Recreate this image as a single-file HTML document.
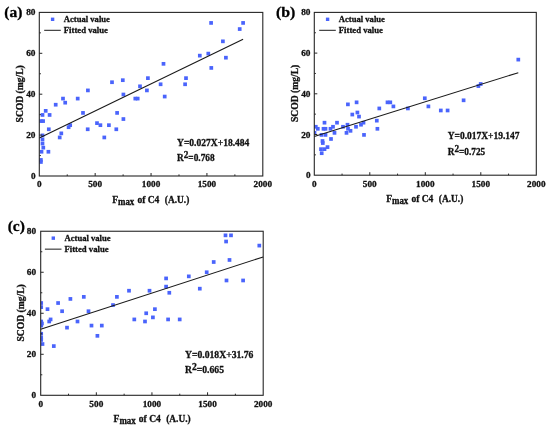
<!DOCTYPE html>
<html><head><meta charset="utf-8"><title>SCOD vs Fmax of C4</title>
<style>
html,body{margin:0;padding:0;background:#fff;}
svg{display:block;}
.t{font-family:"Liberation Serif","DejaVu Serif",serif;font-weight:bold;font-size:9px;fill:#111;stroke:#111;stroke-width:0.3px;}
.u{font-family:"Liberation Serif","DejaVu Serif",serif;font-weight:bold;font-size:9.6px;fill:#111;stroke:#111;stroke-width:0.3px;}
.pl{font-family:"Liberation Serif","DejaVu Serif",serif;font-weight:bold;font-size:15.5px;fill:#000;stroke:#000;stroke-width:0.3px;}
</style></head>
<body>
<svg width="550" height="430" viewBox="0 0 550 430">
<rect x="0" y="0" width="550" height="430" fill="#ffffff"/>
<g>
<clipPath id="cp0"><rect x="39.3" y="12.4" width="223.50" height="163.60"/></clipPath>
<g clip-path="url(#cp0)">
<rect x="61.15" y="96.74" width="3.7" height="3.7" fill="#4a64fc"/>
<rect x="75.85" y="96.74" width="3.7" height="3.7" fill="#4a64fc"/>
<rect x="63.35" y="100.83" width="3.7" height="3.7" fill="#4a64fc"/>
<rect x="53.85" y="102.87" width="3.7" height="3.7" fill="#4a64fc"/>
<rect x="43.85" y="109.01" width="3.7" height="3.7" fill="#4a64fc"/>
<rect x="40.65" y="113.10" width="3.7" height="3.7" fill="#4a64fc"/>
<rect x="47.75" y="113.10" width="3.7" height="3.7" fill="#4a64fc"/>
<rect x="81.15" y="111.06" width="3.7" height="3.7" fill="#4a64fc"/>
<rect x="39.05" y="119.23" width="3.7" height="3.7" fill="#4a64fc"/>
<rect x="41.25" y="119.23" width="3.7" height="3.7" fill="#4a64fc"/>
<rect x="46.95" y="127.42" width="3.7" height="3.7" fill="#4a64fc"/>
<rect x="68.35" y="123.33" width="3.7" height="3.7" fill="#4a64fc"/>
<rect x="66.75" y="125.37" width="3.7" height="3.7" fill="#4a64fc"/>
<rect x="95.15" y="121.28" width="3.7" height="3.7" fill="#4a64fc"/>
<rect x="98.55" y="123.33" width="3.7" height="3.7" fill="#4a64fc"/>
<rect x="107.05" y="123.33" width="3.7" height="3.7" fill="#4a64fc"/>
<rect x="85.85" y="127.42" width="3.7" height="3.7" fill="#4a64fc"/>
<rect x="59.45" y="131.51" width="3.7" height="3.7" fill="#4a64fc"/>
<rect x="57.85" y="135.60" width="3.7" height="3.7" fill="#4a64fc"/>
<rect x="102.45" y="135.60" width="3.7" height="3.7" fill="#4a64fc"/>
<rect x="40.65" y="133.55" width="3.7" height="3.7" fill="#4a64fc"/>
<rect x="40.65" y="137.64" width="3.7" height="3.7" fill="#4a64fc"/>
<rect x="40.65" y="141.73" width="3.7" height="3.7" fill="#4a64fc"/>
<rect x="41.45" y="145.82" width="3.7" height="3.7" fill="#4a64fc"/>
<rect x="39.65" y="149.91" width="3.7" height="3.7" fill="#4a64fc"/>
<rect x="46.55" y="149.91" width="3.7" height="3.7" fill="#4a64fc"/>
<rect x="39.05" y="158.09" width="3.7" height="3.7" fill="#4a64fc"/>
<rect x="39.05" y="160.14" width="3.7" height="3.7" fill="#4a64fc"/>
<rect x="115.25" y="111.06" width="3.7" height="3.7" fill="#4a64fc"/>
<rect x="121.55" y="117.19" width="3.7" height="3.7" fill="#4a64fc"/>
<rect x="114.45" y="127.42" width="3.7" height="3.7" fill="#4a64fc"/>
<rect x="133.45" y="96.74" width="3.7" height="3.7" fill="#4a64fc"/>
<rect x="135.85" y="96.74" width="3.7" height="3.7" fill="#4a64fc"/>
<rect x="162.85" y="94.70" width="3.7" height="3.7" fill="#4a64fc"/>
<rect x="86.05" y="88.56" width="3.7" height="3.7" fill="#4a64fc"/>
<rect x="110.15" y="80.38" width="3.7" height="3.7" fill="#4a64fc"/>
<rect x="120.95" y="78.34" width="3.7" height="3.7" fill="#4a64fc"/>
<rect x="161.65" y="61.98" width="3.7" height="3.7" fill="#4a64fc"/>
<rect x="146.05" y="76.29" width="3.7" height="3.7" fill="#4a64fc"/>
<rect x="138.15" y="84.47" width="3.7" height="3.7" fill="#4a64fc"/>
<rect x="158.75" y="82.43" width="3.7" height="3.7" fill="#4a64fc"/>
<rect x="145.05" y="88.56" width="3.7" height="3.7" fill="#4a64fc"/>
<rect x="184.15" y="76.29" width="3.7" height="3.7" fill="#4a64fc"/>
<rect x="183.25" y="82.43" width="3.7" height="3.7" fill="#4a64fc"/>
<rect x="121.55" y="92.65" width="3.7" height="3.7" fill="#4a64fc"/>
<rect x="209.25" y="21.07" width="3.7" height="3.7" fill="#4a64fc"/>
<rect x="241.25" y="21.07" width="3.7" height="3.7" fill="#4a64fc"/>
<rect x="237.85" y="27.21" width="3.7" height="3.7" fill="#4a64fc"/>
<rect x="221.05" y="39.48" width="3.7" height="3.7" fill="#4a64fc"/>
<rect x="197.95" y="53.79" width="3.7" height="3.7" fill="#4a64fc"/>
<rect x="206.45" y="51.75" width="3.7" height="3.7" fill="#4a64fc"/>
<rect x="224.05" y="55.84" width="3.7" height="3.7" fill="#4a64fc"/>
<rect x="209.45" y="66.07" width="3.7" height="3.7" fill="#4a64fc"/>
</g>
<line x1="39.3" y1="137.9" x2="243.1" y2="39.2" stroke="#1a1a1a" stroke-width="1.1"/>
<rect x="39.3" y="12.4" width="223.50" height="163.60" fill="none" stroke="#262626" stroke-width="1.1"/>
<line x1="67.24" y1="176.0" x2="67.24" y2="174.4" stroke="#262626" stroke-width="1"/>
<line x1="39.3" y1="155.55" x2="40.9" y2="155.55" stroke="#262626" stroke-width="1"/>
<line x1="95.17" y1="176.0" x2="95.17" y2="173.0" stroke="#262626" stroke-width="1"/>
<line x1="39.3" y1="135.10" x2="42.3" y2="135.10" stroke="#262626" stroke-width="1"/>
<line x1="123.11" y1="176.0" x2="123.11" y2="174.4" stroke="#262626" stroke-width="1"/>
<line x1="39.3" y1="114.65" x2="40.9" y2="114.65" stroke="#262626" stroke-width="1"/>
<line x1="151.05" y1="176.0" x2="151.05" y2="173.0" stroke="#262626" stroke-width="1"/>
<line x1="39.3" y1="94.20" x2="42.3" y2="94.20" stroke="#262626" stroke-width="1"/>
<line x1="178.99" y1="176.0" x2="178.99" y2="174.4" stroke="#262626" stroke-width="1"/>
<line x1="39.3" y1="73.75" x2="40.9" y2="73.75" stroke="#262626" stroke-width="1"/>
<line x1="206.93" y1="176.0" x2="206.93" y2="173.0" stroke="#262626" stroke-width="1"/>
<line x1="39.3" y1="53.30" x2="42.3" y2="53.30" stroke="#262626" stroke-width="1"/>
<line x1="234.86" y1="176.0" x2="234.86" y2="174.4" stroke="#262626" stroke-width="1"/>
<line x1="39.3" y1="32.85" x2="40.9" y2="32.85" stroke="#262626" stroke-width="1"/>
<text class="t" x="39.30" y="187.30" text-anchor="middle" textLength="4.6" lengthAdjust="spacingAndGlyphs">0</text>
<text class="t" x="95.17" y="187.30" text-anchor="middle" textLength="13.9" lengthAdjust="spacingAndGlyphs">500</text>
<text class="t" x="151.05" y="187.30" text-anchor="middle" textLength="18.4" lengthAdjust="spacingAndGlyphs">1000</text>
<text class="t" x="206.93" y="187.30" text-anchor="middle" textLength="18.4" lengthAdjust="spacingAndGlyphs">1500</text>
<text class="t" x="262.80" y="187.30" text-anchor="middle" textLength="18.4" lengthAdjust="spacingAndGlyphs">2000</text>
<text class="t" x="35.50" y="179.00" text-anchor="end" textLength="4.6" lengthAdjust="spacingAndGlyphs">0</text>
<text class="t" x="35.50" y="138.10" text-anchor="end" textLength="9.3" lengthAdjust="spacingAndGlyphs">20</text>
<text class="t" x="35.50" y="97.20" text-anchor="end" textLength="9.3" lengthAdjust="spacingAndGlyphs">40</text>
<text class="t" x="35.50" y="56.30" text-anchor="end" textLength="9.3" lengthAdjust="spacingAndGlyphs">60</text>
<text class="t" x="35.50" y="15.40" text-anchor="end" textLength="9.3" lengthAdjust="spacingAndGlyphs">80</text>
<rect x="50.90" y="17.60" width="3.4" height="3.4" fill="#4a64fc"/>
<line x1="44.20" y1="30.30" x2="60.80" y2="30.30" stroke="#1a1a1a" stroke-width="1"/>
<text class="t" x="63.80" y="22.40" textLength="46.1" lengthAdjust="spacingAndGlyphs">Actual value</text>
<text class="t" x="63.80" y="33.10" textLength="44.1" lengthAdjust="spacingAndGlyphs">Fitted value</text>
<text class="u" transform="translate(22.70,93.80) rotate(-90)" text-anchor="middle" textLength="57.2" lengthAdjust="spacingAndGlyphs">SCOD (mg/L)</text>
<text class="u" x="112.20" y="202.90">F</text>
<text class="u" x="118.00" y="204.80" textLength="16.3" lengthAdjust="spacingAndGlyphs">max</text>
<text class="u" x="137.40" y="202.90" textLength="22.0" lengthAdjust="spacingAndGlyphs">of C4</text>
<text class="u" x="164.80" y="202.90" textLength="24.5" lengthAdjust="spacingAndGlyphs">(A.U.)</text>
<text class="u" x="177.0" y="145.9" textLength="72.4" lengthAdjust="spacingAndGlyphs">Y=0.027X+18.484</text>
<text class="u" x="177.0" y="161.4" textLength="37.6" lengthAdjust="spacingAndGlyphs">R<tspan dy="-3">2</tspan><tspan dy="3">=0.768</tspan></text>
<text class="pl" x="4.3" y="16.7">(a)</text>
</g>
<g>
<clipPath id="cp1"><rect x="314.3" y="12.4" width="222.00" height="162.80"/></clipPath>
<g clip-path="url(#cp1)">
<rect x="322.65" y="120.84" width="3.7" height="3.7" fill="#4a64fc"/>
<rect x="335.15" y="120.84" width="3.7" height="3.7" fill="#4a64fc"/>
<rect x="313.95" y="124.91" width="3.7" height="3.7" fill="#4a64fc"/>
<rect x="315.95" y="126.94" width="3.7" height="3.7" fill="#4a64fc"/>
<rect x="312.65" y="131.02" width="3.7" height="3.7" fill="#4a64fc"/>
<rect x="321.65" y="126.94" width="3.7" height="3.7" fill="#4a64fc"/>
<rect x="323.65" y="126.94" width="3.7" height="3.7" fill="#4a64fc"/>
<rect x="328.65" y="126.94" width="3.7" height="3.7" fill="#4a64fc"/>
<rect x="331.15" y="124.91" width="3.7" height="3.7" fill="#4a64fc"/>
<rect x="341.15" y="124.91" width="3.7" height="3.7" fill="#4a64fc"/>
<rect x="345.65" y="122.87" width="3.7" height="3.7" fill="#4a64fc"/>
<rect x="346.15" y="126.94" width="3.7" height="3.7" fill="#4a64fc"/>
<rect x="348.65" y="128.98" width="3.7" height="3.7" fill="#4a64fc"/>
<rect x="344.65" y="131.02" width="3.7" height="3.7" fill="#4a64fc"/>
<rect x="332.65" y="131.02" width="3.7" height="3.7" fill="#4a64fc"/>
<rect x="319.65" y="133.05" width="3.7" height="3.7" fill="#4a64fc"/>
<rect x="323.65" y="133.05" width="3.7" height="3.7" fill="#4a64fc"/>
<rect x="329.15" y="137.12" width="3.7" height="3.7" fill="#4a64fc"/>
<rect x="320.65" y="139.15" width="3.7" height="3.7" fill="#4a64fc"/>
<rect x="320.95" y="141.19" width="3.7" height="3.7" fill="#4a64fc"/>
<rect x="325.65" y="145.26" width="3.7" height="3.7" fill="#4a64fc"/>
<rect x="319.15" y="147.30" width="3.7" height="3.7" fill="#4a64fc"/>
<rect x="322.65" y="147.30" width="3.7" height="3.7" fill="#4a64fc"/>
<rect x="319.85" y="151.36" width="3.7" height="3.7" fill="#4a64fc"/>
<rect x="354.15" y="124.91" width="3.7" height="3.7" fill="#4a64fc"/>
<rect x="359.15" y="122.87" width="3.7" height="3.7" fill="#4a64fc"/>
<rect x="361.65" y="120.84" width="3.7" height="3.7" fill="#4a64fc"/>
<rect x="362.15" y="133.05" width="3.7" height="3.7" fill="#4a64fc"/>
<rect x="346.05" y="102.52" width="3.7" height="3.7" fill="#4a64fc"/>
<rect x="354.75" y="100.49" width="3.7" height="3.7" fill="#4a64fc"/>
<rect x="377.45" y="106.60" width="3.7" height="3.7" fill="#4a64fc"/>
<rect x="350.45" y="112.70" width="3.7" height="3.7" fill="#4a64fc"/>
<rect x="355.55" y="110.66" width="3.7" height="3.7" fill="#4a64fc"/>
<rect x="357.15" y="114.74" width="3.7" height="3.7" fill="#4a64fc"/>
<rect x="374.95" y="118.80" width="3.7" height="3.7" fill="#4a64fc"/>
<rect x="375.55" y="126.94" width="3.7" height="3.7" fill="#4a64fc"/>
<rect x="385.65" y="100.49" width="3.7" height="3.7" fill="#4a64fc"/>
<rect x="388.45" y="100.49" width="3.7" height="3.7" fill="#4a64fc"/>
<rect x="391.55" y="104.56" width="3.7" height="3.7" fill="#4a64fc"/>
<rect x="406.05" y="106.60" width="3.7" height="3.7" fill="#4a64fc"/>
<rect x="422.95" y="96.42" width="3.7" height="3.7" fill="#4a64fc"/>
<rect x="426.55" y="104.56" width="3.7" height="3.7" fill="#4a64fc"/>
<rect x="438.95" y="108.63" width="3.7" height="3.7" fill="#4a64fc"/>
<rect x="445.75" y="108.63" width="3.7" height="3.7" fill="#4a64fc"/>
<rect x="516.45" y="57.76" width="3.7" height="3.7" fill="#4a64fc"/>
<rect x="476.55" y="84.21" width="3.7" height="3.7" fill="#4a64fc"/>
<rect x="478.85" y="82.17" width="3.7" height="3.7" fill="#4a64fc"/>
<rect x="461.75" y="98.46" width="3.7" height="3.7" fill="#4a64fc"/>
</g>
<line x1="314.3" y1="136.5" x2="518.3" y2="72.7" stroke="#1a1a1a" stroke-width="1.1"/>
<rect x="314.3" y="12.4" width="222.00" height="162.80" fill="none" stroke="#262626" stroke-width="1.1"/>
<line x1="342.05" y1="175.2" x2="342.05" y2="173.6" stroke="#262626" stroke-width="1"/>
<line x1="314.3" y1="154.85" x2="315.90000000000003" y2="154.85" stroke="#262626" stroke-width="1"/>
<line x1="369.80" y1="175.2" x2="369.80" y2="172.2" stroke="#262626" stroke-width="1"/>
<line x1="314.3" y1="134.50" x2="317.3" y2="134.50" stroke="#262626" stroke-width="1"/>
<line x1="397.55" y1="175.2" x2="397.55" y2="173.6" stroke="#262626" stroke-width="1"/>
<line x1="314.3" y1="114.15" x2="315.90000000000003" y2="114.15" stroke="#262626" stroke-width="1"/>
<line x1="425.30" y1="175.2" x2="425.30" y2="172.2" stroke="#262626" stroke-width="1"/>
<line x1="314.3" y1="93.80" x2="317.3" y2="93.80" stroke="#262626" stroke-width="1"/>
<line x1="453.05" y1="175.2" x2="453.05" y2="173.6" stroke="#262626" stroke-width="1"/>
<line x1="314.3" y1="73.45" x2="315.90000000000003" y2="73.45" stroke="#262626" stroke-width="1"/>
<line x1="480.80" y1="175.2" x2="480.80" y2="172.2" stroke="#262626" stroke-width="1"/>
<line x1="314.3" y1="53.10" x2="317.3" y2="53.10" stroke="#262626" stroke-width="1"/>
<line x1="508.55" y1="175.2" x2="508.55" y2="173.6" stroke="#262626" stroke-width="1"/>
<line x1="314.3" y1="32.75" x2="315.90000000000003" y2="32.75" stroke="#262626" stroke-width="1"/>
<text class="t" x="314.30" y="186.50" text-anchor="middle" textLength="4.6" lengthAdjust="spacingAndGlyphs">0</text>
<text class="t" x="369.80" y="186.50" text-anchor="middle" textLength="13.9" lengthAdjust="spacingAndGlyphs">500</text>
<text class="t" x="425.30" y="186.50" text-anchor="middle" textLength="18.4" lengthAdjust="spacingAndGlyphs">1000</text>
<text class="t" x="480.80" y="186.50" text-anchor="middle" textLength="18.4" lengthAdjust="spacingAndGlyphs">1500</text>
<text class="t" x="536.30" y="186.50" text-anchor="middle" textLength="18.4" lengthAdjust="spacingAndGlyphs">2000</text>
<text class="t" x="310.50" y="178.20" text-anchor="end" textLength="4.6" lengthAdjust="spacingAndGlyphs">0</text>
<text class="t" x="310.50" y="137.50" text-anchor="end" textLength="9.3" lengthAdjust="spacingAndGlyphs">20</text>
<text class="t" x="310.50" y="96.80" text-anchor="end" textLength="9.3" lengthAdjust="spacingAndGlyphs">40</text>
<text class="t" x="310.50" y="56.10" text-anchor="end" textLength="9.3" lengthAdjust="spacingAndGlyphs">60</text>
<text class="t" x="310.50" y="15.40" text-anchor="end" textLength="9.3" lengthAdjust="spacingAndGlyphs">80</text>
<rect x="325.90" y="17.60" width="3.4" height="3.4" fill="#4a64fc"/>
<line x1="319.20" y1="30.30" x2="335.80" y2="30.30" stroke="#1a1a1a" stroke-width="1"/>
<text class="t" x="338.80" y="22.40" textLength="46.1" lengthAdjust="spacingAndGlyphs">Actual value</text>
<text class="t" x="338.80" y="33.10" textLength="44.1" lengthAdjust="spacingAndGlyphs">Fitted value</text>
<text class="u" transform="translate(297.70,93.40) rotate(-90)" text-anchor="middle" textLength="57.2" lengthAdjust="spacingAndGlyphs">SCOD (mg/L)</text>
<text class="u" x="386.20" y="202.10">F</text>
<text class="u" x="392.00" y="204.00" textLength="16.3" lengthAdjust="spacingAndGlyphs">max</text>
<text class="u" x="411.40" y="202.10" textLength="22.0" lengthAdjust="spacingAndGlyphs">of C4</text>
<text class="u" x="438.80" y="202.10" textLength="24.5" lengthAdjust="spacingAndGlyphs">(A.U.)</text>
<text class="u" x="447.7" y="138.8" textLength="71.8" lengthAdjust="spacingAndGlyphs">Y=0.017X+19.147</text>
<text class="u" x="447.7" y="154.8" textLength="37.5" lengthAdjust="spacingAndGlyphs">R<tspan dy="-3">2</tspan><tspan dy="3">=0.725</tspan></text>
<text class="pl" x="276.0" y="16.8" textLength="19.4" lengthAdjust="spacingAndGlyphs">(b)</text>
</g>
<g>
<clipPath id="cp2"><rect x="40.7" y="231.25" width="222.50" height="164.05"/></clipPath>
<g clip-path="url(#cp2)">
<rect x="45.65" y="307.32" width="3.7" height="3.7" fill="#4a64fc"/>
<rect x="56.25" y="301.17" width="3.7" height="3.7" fill="#4a64fc"/>
<rect x="68.55" y="297.07" width="3.7" height="3.7" fill="#4a64fc"/>
<rect x="81.95" y="295.02" width="3.7" height="3.7" fill="#4a64fc"/>
<rect x="111.15" y="303.22" width="3.7" height="3.7" fill="#4a64fc"/>
<rect x="60.25" y="309.37" width="3.7" height="3.7" fill="#4a64fc"/>
<rect x="86.65" y="309.37" width="3.7" height="3.7" fill="#4a64fc"/>
<rect x="48.75" y="317.58" width="3.7" height="3.7" fill="#4a64fc"/>
<rect x="47.35" y="319.63" width="3.7" height="3.7" fill="#4a64fc"/>
<rect x="40.05" y="321.68" width="3.7" height="3.7" fill="#4a64fc"/>
<rect x="75.65" y="319.63" width="3.7" height="3.7" fill="#4a64fc"/>
<rect x="65.15" y="325.78" width="3.7" height="3.7" fill="#4a64fc"/>
<rect x="89.65" y="323.73" width="3.7" height="3.7" fill="#4a64fc"/>
<rect x="99.95" y="323.73" width="3.7" height="3.7" fill="#4a64fc"/>
<rect x="95.55" y="333.98" width="3.7" height="3.7" fill="#4a64fc"/>
<rect x="40.65" y="342.18" width="3.7" height="3.7" fill="#4a64fc"/>
<rect x="51.95" y="344.24" width="3.7" height="3.7" fill="#4a64fc"/>
<rect x="39.35" y="301.17" width="3.7" height="3.7" fill="#4a64fc"/>
<rect x="39.35" y="305.27" width="3.7" height="3.7" fill="#4a64fc"/>
<rect x="39.35" y="319.63" width="3.7" height="3.7" fill="#4a64fc"/>
<rect x="39.35" y="323.73" width="3.7" height="3.7" fill="#4a64fc"/>
<rect x="39.35" y="331.93" width="3.7" height="3.7" fill="#4a64fc"/>
<rect x="39.35" y="336.03" width="3.7" height="3.7" fill="#4a64fc"/>
<rect x="39.35" y="338.08" width="3.7" height="3.7" fill="#4a64fc"/>
<rect x="115.05" y="295.02" width="3.7" height="3.7" fill="#4a64fc"/>
<rect x="127.15" y="288.87" width="3.7" height="3.7" fill="#4a64fc"/>
<rect x="147.65" y="288.87" width="3.7" height="3.7" fill="#4a64fc"/>
<rect x="164.25" y="276.56" width="3.7" height="3.7" fill="#4a64fc"/>
<rect x="164.25" y="284.77" width="3.7" height="3.7" fill="#4a64fc"/>
<rect x="167.45" y="290.92" width="3.7" height="3.7" fill="#4a64fc"/>
<rect x="186.95" y="274.51" width="3.7" height="3.7" fill="#4a64fc"/>
<rect x="153.05" y="307.32" width="3.7" height="3.7" fill="#4a64fc"/>
<rect x="144.35" y="311.42" width="3.7" height="3.7" fill="#4a64fc"/>
<rect x="151.05" y="315.53" width="3.7" height="3.7" fill="#4a64fc"/>
<rect x="132.45" y="317.58" width="3.7" height="3.7" fill="#4a64fc"/>
<rect x="143.15" y="319.63" width="3.7" height="3.7" fill="#4a64fc"/>
<rect x="166.25" y="317.58" width="3.7" height="3.7" fill="#4a64fc"/>
<rect x="177.85" y="317.58" width="3.7" height="3.7" fill="#4a64fc"/>
<rect x="223.65" y="233.50" width="3.7" height="3.7" fill="#4a64fc"/>
<rect x="229.15" y="233.50" width="3.7" height="3.7" fill="#4a64fc"/>
<rect x="224.25" y="239.65" width="3.7" height="3.7" fill="#4a64fc"/>
<rect x="257.45" y="243.75" width="3.7" height="3.7" fill="#4a64fc"/>
<rect x="211.85" y="260.16" width="3.7" height="3.7" fill="#4a64fc"/>
<rect x="227.65" y="258.11" width="3.7" height="3.7" fill="#4a64fc"/>
<rect x="204.85" y="270.41" width="3.7" height="3.7" fill="#4a64fc"/>
<rect x="224.65" y="278.62" width="3.7" height="3.7" fill="#4a64fc"/>
<rect x="241.25" y="278.62" width="3.7" height="3.7" fill="#4a64fc"/>
<rect x="197.95" y="286.82" width="3.7" height="3.7" fill="#4a64fc"/>
</g>
<line x1="40.7" y1="329.2" x2="263.2" y2="256.9" stroke="#1a1a1a" stroke-width="1.1"/>
<rect x="40.7" y="231.25" width="222.50" height="164.05" fill="none" stroke="#262626" stroke-width="1.1"/>
<line x1="68.51" y1="395.3" x2="68.51" y2="393.7" stroke="#262626" stroke-width="1"/>
<line x1="40.7" y1="374.79" x2="42.300000000000004" y2="374.79" stroke="#262626" stroke-width="1"/>
<line x1="96.33" y1="395.3" x2="96.33" y2="392.3" stroke="#262626" stroke-width="1"/>
<line x1="40.7" y1="354.29" x2="43.7" y2="354.29" stroke="#262626" stroke-width="1"/>
<line x1="124.14" y1="395.3" x2="124.14" y2="393.7" stroke="#262626" stroke-width="1"/>
<line x1="40.7" y1="333.78" x2="42.300000000000004" y2="333.78" stroke="#262626" stroke-width="1"/>
<line x1="151.95" y1="395.3" x2="151.95" y2="392.3" stroke="#262626" stroke-width="1"/>
<line x1="40.7" y1="313.27" x2="43.7" y2="313.27" stroke="#262626" stroke-width="1"/>
<line x1="179.76" y1="395.3" x2="179.76" y2="393.7" stroke="#262626" stroke-width="1"/>
<line x1="40.7" y1="292.77" x2="42.300000000000004" y2="292.77" stroke="#262626" stroke-width="1"/>
<line x1="207.57" y1="395.3" x2="207.57" y2="392.3" stroke="#262626" stroke-width="1"/>
<line x1="40.7" y1="272.26" x2="43.7" y2="272.26" stroke="#262626" stroke-width="1"/>
<line x1="235.39" y1="395.3" x2="235.39" y2="393.7" stroke="#262626" stroke-width="1"/>
<line x1="40.7" y1="251.76" x2="42.300000000000004" y2="251.76" stroke="#262626" stroke-width="1"/>
<text class="t" x="40.70" y="406.60" text-anchor="middle" textLength="4.6" lengthAdjust="spacingAndGlyphs">0</text>
<text class="t" x="96.33" y="406.60" text-anchor="middle" textLength="13.9" lengthAdjust="spacingAndGlyphs">500</text>
<text class="t" x="151.95" y="406.60" text-anchor="middle" textLength="18.4" lengthAdjust="spacingAndGlyphs">1000</text>
<text class="t" x="207.57" y="406.60" text-anchor="middle" textLength="18.4" lengthAdjust="spacingAndGlyphs">1500</text>
<text class="t" x="263.20" y="406.60" text-anchor="middle" textLength="18.4" lengthAdjust="spacingAndGlyphs">2000</text>
<text class="t" x="36.10" y="398.30" text-anchor="end" textLength="4.6" lengthAdjust="spacingAndGlyphs">0</text>
<text class="t" x="36.10" y="357.29" text-anchor="end" textLength="9.3" lengthAdjust="spacingAndGlyphs">20</text>
<text class="t" x="36.10" y="316.27" text-anchor="end" textLength="9.3" lengthAdjust="spacingAndGlyphs">40</text>
<text class="t" x="36.10" y="275.26" text-anchor="end" textLength="9.3" lengthAdjust="spacingAndGlyphs">60</text>
<text class="t" x="36.10" y="234.25" text-anchor="end" textLength="9.3" lengthAdjust="spacingAndGlyphs">80</text>
<rect x="51.60" y="236.45" width="3.4" height="3.4" fill="#4a64fc"/>
<line x1="44.90" y1="249.15" x2="61.50" y2="249.15" stroke="#1a1a1a" stroke-width="1"/>
<text class="t" x="64.50" y="241.25" textLength="46.1" lengthAdjust="spacingAndGlyphs">Actual value</text>
<text class="t" x="64.50" y="251.95" textLength="44.1" lengthAdjust="spacingAndGlyphs">Fitted value</text>
<text class="u" transform="translate(23.50,312.88) rotate(-90)" text-anchor="middle" textLength="57.2" lengthAdjust="spacingAndGlyphs">SCOD (mg/L)</text>
<text class="u" x="113.60" y="422.20">F</text>
<text class="u" x="119.40" y="424.10" textLength="16.3" lengthAdjust="spacingAndGlyphs">max</text>
<text class="u" x="138.80" y="422.20" textLength="22.0" lengthAdjust="spacingAndGlyphs">of C4</text>
<text class="u" x="166.20" y="422.20" textLength="24.5" lengthAdjust="spacingAndGlyphs">(A.U.)</text>
<text class="u" x="185.0" y="357.5" textLength="68.4" lengthAdjust="spacingAndGlyphs">Y=0.018X+31.76</text>
<text class="u" x="185.0" y="373.3" textLength="39.0" lengthAdjust="spacingAndGlyphs">R<tspan dy="-3">2</tspan><tspan dy="3">=0.665</tspan></text>
<text class="pl" x="7.7" y="230.7">(c)</text>
</g>
</svg>
</body></html>
